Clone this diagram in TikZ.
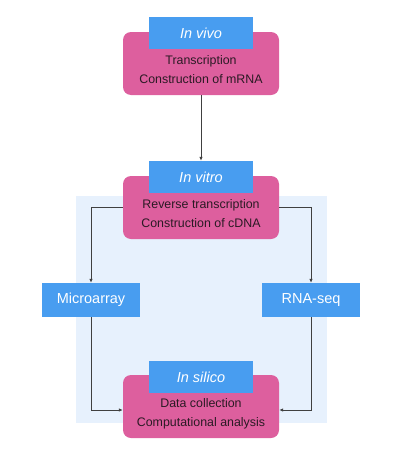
\documentclass[tikz,border=0pt]{standalone}
\usepackage{fontspec}
\setmainfont{Liberation Sans}
\definecolor{stagepink}{HTML}{DD5F9E}
\definecolor{tagblue}{HTML}{489DF0}
\definecolor{panelblue}{HTML}{E7F1FD}
\definecolor{stageink}{HTML}{2B1A24}
\usetikzlibrary{arrows.meta}

\begin{document}
\begin{tikzpicture}[x=1pt,y=-1pt,
  stage/.style={fill=stagepink,rounded corners=8pt,minimum width=156pt,minimum height=63pt,inner sep=0pt},
  stagetext/.style={align=center,text=stageink,font=\fontsize{12.4}{19}\selectfont},
  tag/.style={fill=tagblue,text=white,minimum width=104pt,minimum height=32pt,inner sep=0pt,font=\fontsize{14.5}{16}\selectfont\itshape},
  method/.style={fill=tagblue,text=white,minimum width=98pt,minimum height=34pt,inner sep=0pt,font=\fontsize{14.5}{16}\selectfont},
  flow/.style={draw=black!75,line width=0.8pt,-{Latex[length=4pt,width=3.5pt]}}]
  \useasboundingbox (0,0) rectangle (406,450);
  \fill[panelblue] (76,196) rectangle (327,423);
  % stages
  \node[stage] (vivo) at (201,63.5) {};
  \node[stagetext] (vivo-txt) at (201,69.5) {Transcription\\Construction of mRNA};
  \node[tag] (vivo-tag) at (201,33) {In vivo};
  \node[stage] (vitro) at (201,207.5) {};
  \node[stagetext] (vitro-txt) at (201,213.5) {Reverse transcription\\Construction of cDNA};
  \node[tag] (vitro-tag) at (201,177) {In vitro};
  \node[stage] (silico) at (201,406.5) {};
  \node[stagetext] (silico-txt) at (201,413.5) {Data collection\\Computational analysis};
  \node[tag] (silico-tag) at (201,377) {In silico};
  % methods
  \node[method] (micro) at (91,300) {Microarray};
  \node[method] (rnaseq) at (311,300) {RNA-seq};
  % connectors
  \draw[flow] (vivo) -- (vitro-tag);
  \draw[flow] (vitro.west) -| (micro.north);
  \draw[flow] (vitro.east) -| (rnaseq.north);
  \draw[flow] (micro.south) |- ([yshift=-3.5pt]silico.west);
  \draw[flow] (rnaseq.south) |- ([yshift=-3.5pt]silico.east);
\end{tikzpicture}
\end{document}
